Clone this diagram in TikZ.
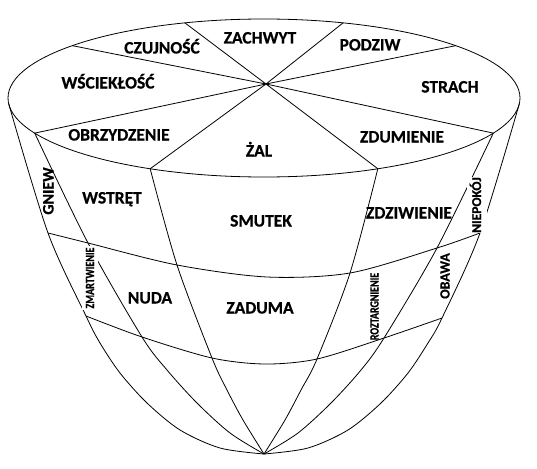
\documentclass[tikz,border=0pt]{standalone}
\usepackage{fontspec}
\setmainfont{Carlito}[BoldFeatures={FakeBold=0.6}]
\newfontfamily\narrowfont{Carlito}[FakeStretch=0.8, BoldFeatures={FakeStretch=0.8, FakeBold=0.8}]
\usetikzlibrary{calc}

\begin{document}
\begin{tikzpicture}[x=1pt, y=-1pt, line width=0.8pt,
  emo/.style={font=\bfseries\fontsize{17.5}{17.5}\selectfont, text height=11pt, text depth=0pt},
  emoside/.style={emo, font=\bfseries\fontsize{16}{16}\selectfont, rotate=90},
  emotiny/.style={font=\narrowfont\bfseries\fontsize{12.5}{12.5}\selectfont, text height=8pt, text depth=0pt, rotate=90, inner xsep=2pt, inner ysep=4pt}]

\useasboundingbox (0,0) rectangle (537,468);

% rim with its spokes
\coordinate (O) at (264,98);
\coordinate (hub) at (266,84);
\coordinate (apex) at (264,454);
\draw (O) ellipse [x radius=256pt, y radius=79pt];

\coordinate (rZach) at ($(O)+(252:256 and 79)$);
\coordinate (rPodz) at ($(O)+(288:256 and 79)$);
\coordinate (rCzuj) at ($(O)+(221.5:256 and 79)$);
\coordinate (rStra) at ($(O)+(318.5:256 and 79)$);
\coordinate (rWsci) at ($(O)+(153.6:256 and 79)$);
\coordinate (rZdum) at ($(O)+(26.4:256 and 79)$);
\coordinate (rObrz) at ($(O)+(116.4:256 and 79)$);
\coordinate (rZal) at ($(O)+(63.6:256 and 79)$);
\coordinate (rLeft) at ($(O)+(176:256 and 79)$);
\coordinate (rRight) at ($(O)+(4:256 and 79)$);

\draw (hub) -- (rZach) (hub) -- (rPodz) (hub) -- (rCzuj) (hub) -- (rStra);
\draw (hub) -- (rWsci) (hub) -- (rZdum) (hub) -- (rObrz) (hub) -- (rZal);

% upper and lower bands
\coordinate (u0) at (48,233);
\coordinate (u1) at (88,243);
\coordinate (u2) at (177,265);
\coordinate (u3) at (350,273);
\coordinate (u4) at (437,248);
\coordinate (u5) at (480,233);

\coordinate (l0) at (86,316);
\coordinate (l1) at (142,337);
\coordinate (l2) at (212,358);
\coordinate (l3) at (317,359);
\coordinate (l4) at (384,338);
\coordinate (l5) at (442,318);

\draw plot[smooth] coordinates {(u0) (u1) (u2) (267,277) (u3) (u4) (u5)};
\draw plot[smooth] coordinates {(l0) (l1) (l2) (265,364) (l3) (l4) (l5)};

% meridians down to the apex
\draw plot[smooth] coordinates {(rLeft) (u0) (l0) (100,343) (120,373) (147,403) (180,430) (220,448) (apex)};
\draw plot[smooth] coordinates {(rWsci) (u1) (l1) (167,370) (197,403) (230,433) (apex)};
\draw plot[smooth] coordinates {(rObrz) (u2) (l2) (227,390) (243,420) (apex)};
\draw plot[smooth] coordinates {(rZal) (u3) (l3) (301,390) (285,420) (apex)};
\draw plot[smooth] coordinates {(rZdum) (u4) (l4) (361,370) (331,403) (298,433) (apex)};
\draw plot[smooth] coordinates {(rRight) (u5) (l5) (428,343) (408,373) (381,403) (348,430) (308,448) (apex)};

\node[emo] at (260,38) (zachwyt) {ZACHWYT};
\node[emo] at (162,48) (czujnosc) {CZUJNOŚĆ};
\node[emo] at (370,45) (podziw) {PODZIW};
\node[emo] at (108,83) (wscieklosc) {WŚCIEKŁOŚĆ};
\node[emo] at (450,87) (strach) {STRACH};
\node[emo] at (119,135) (obrzydzenie) {OBRZYDZENIE};
\node[emo] at (259,151) (zal) {ŻAL};
\node[emo] at (402,137) (zdumienie) {ZDUMIENIE};

\node[emo] at (112,198) (wstret) {WSTRĘT};
\node[emo] at (261,221) (smutek) {SMUTEK};
\node[emo] at (409,213) (zdziwienie) {ZDZIWIENIE};
\node[emoside] at (48,191) (gniew) {GNIEW};
\node[emotiny, fill=white, inner xsep=0.5pt, inner ysep=6pt, font=\bfseries\fontsize{13.5}{13.5}\selectfont] at (477,205) (niepokoj) {NIEPOKÓJ};

\node[emo] at (150,298) (nuda) {NUDA};
\node[emo] at (260,308) (zaduma) {ZADUMA};
\node[emoside, font=\bfseries\fontsize{14}{14}\selectfont] at (444,276) (obawa) {OBAWA};
\node[emotiny, fill=white] at (90,278) (zmartwienie) {ZMARTWIENIE};
\node[emotiny] at (374.5,306.5) (roztargnienie) {ROZTARGNIENIE};

\end{tikzpicture}
\end{document}
